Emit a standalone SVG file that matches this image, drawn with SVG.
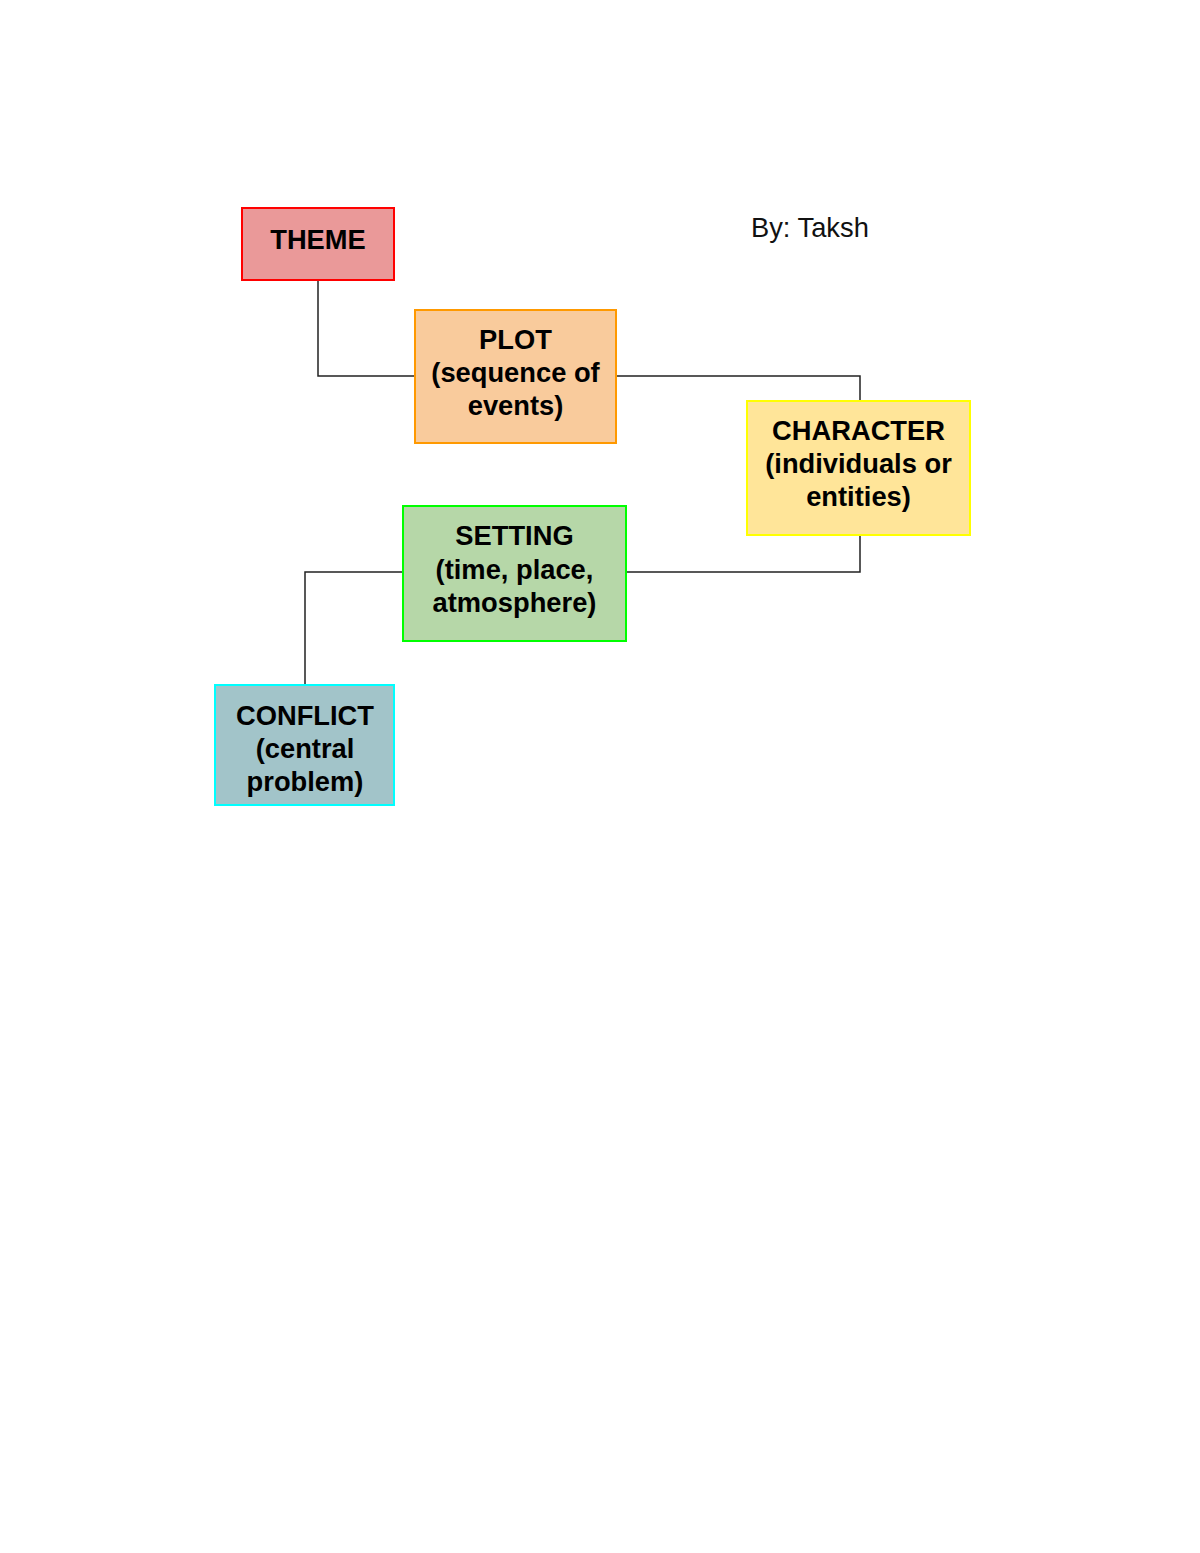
<svg xmlns="http://www.w3.org/2000/svg" width="1200" height="1553" viewBox="0 0 1200 1553">
<style>
.lbl{font-family:"Liberation Sans",Arial,sans-serif;font-weight:bold;font-size:27.3px;fill:#000;text-anchor:middle}
.by{font-family:"Liberation Sans",Arial,sans-serif;font-size:27.3px;fill:#111}
.box{stroke-width:2}
.conn{fill:none;stroke:#222;stroke-width:1.5}
</style>
<rect width="1200" height="1553" fill="#fff"/>
<g id="connectors">
<polyline class="conn" points="318,280 318,376 415,376"/>
<polyline class="conn" points="616,376 860,376 860,401"/>
<polyline class="conn" points="860,535 860,572 626,572"/>
<polyline class="conn" points="403,572 305,572 305,685"/>
</g>
<g id="theme">
<rect class="box" x="242" y="208" width="152" height="72" fill="#ea9999" stroke="#ff0000"/>
<text class="lbl" x="318" y="249">THEME</text>
</g>
<g id="plot">
<rect class="box" x="415" y="310" width="201" height="133" fill="#f9cb9c" stroke="#ff9900"/>
<text class="lbl" x="515.5" y="349">PLOT</text>
<text class="lbl" x="515.5" y="382">(sequence of</text>
<text class="lbl" x="515.5" y="415">events)</text>
</g>
<g id="character">
<rect class="box" x="747" y="401" width="223" height="134" fill="#ffe599" stroke="#ffff00"/>
<text class="lbl" x="858.5" y="440">CHARACTER</text>
<text class="lbl" x="858.5" y="473">(individuals or</text>
<text class="lbl" x="858.5" y="506">entities)</text>
</g>
<g id="setting">
<rect class="box" x="403" y="506" width="223" height="135" fill="#b6d7a8" stroke="#00ff00"/>
<text class="lbl" x="514.5" y="545">SETTING</text>
<text class="lbl" x="514.5" y="579">(time, place,</text>
<text class="lbl" x="514.5" y="612">atmosphere)</text>
</g>
<g id="conflict">
<rect class="box" x="215" y="685" width="179" height="120" fill="#a2c4c9" stroke="#00ffff"/>
<text class="lbl" x="305" y="725">CONFLICT</text>
<text class="lbl" x="305" y="758">(central</text>
<text class="lbl" x="305" y="791">problem)</text>
</g>
<g id="byline">
<text class="by" x="751" y="237">By: Taksh</text>
</g>
</svg>
